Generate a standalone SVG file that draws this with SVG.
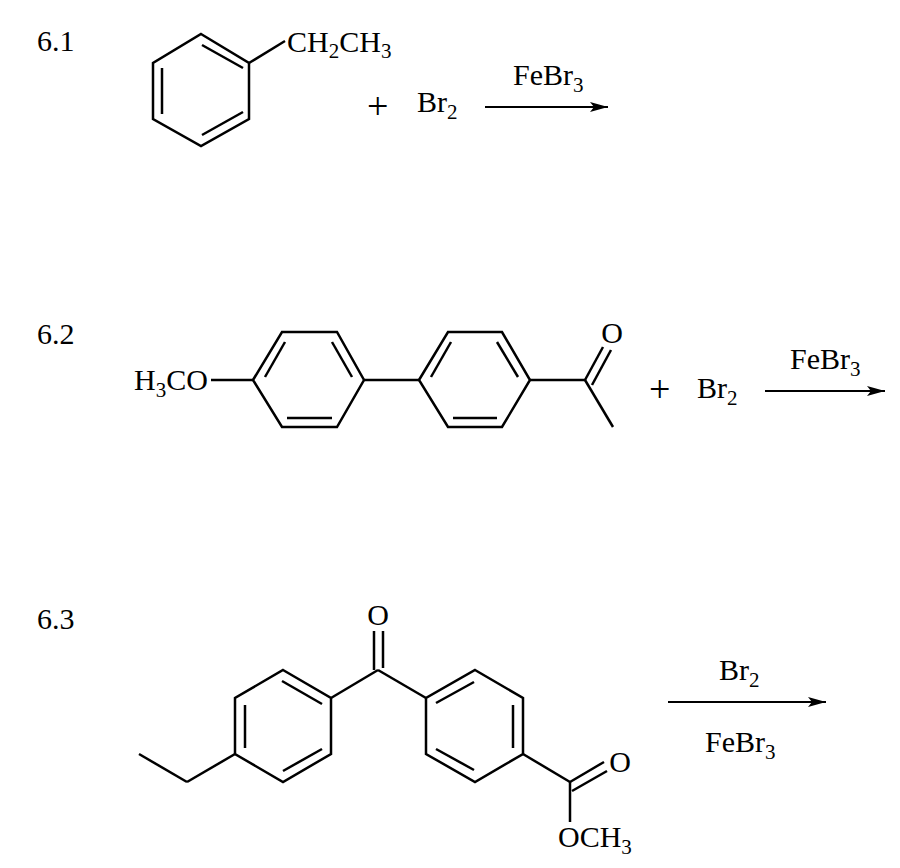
<svg xmlns="http://www.w3.org/2000/svg" width="900" height="868" viewBox="0 0 900 868">
<defs>
<marker id="ah" viewBox="0 0 18 10" refX="18" refY="5" markerWidth="18" markerHeight="10" markerUnits="userSpaceOnUse" orient="auto"><path d="M0,0 L18,5 L0,10 L4,5 Z" fill="#000"/></marker>
</defs>
<style>
line,polyline,polygon{stroke:#000;stroke-width:2.5;fill:none;stroke-linejoin:miter}
text{font-family:"Liberation Serif","Times New Roman",serif;font-size:30px;fill:#000}
.s{font-size:21px}
.p{font-size:38px}
.arr{stroke-width:2;marker-end:url(#ah)}
</style>
<rect width="900" height="868" fill="#fff"/>
<text x="37" y="51">6.1</text>
<text x="37" y="344">6.2</text>
<text x="37" y="629">6.3</text>

<g id="mol1">
<polygon points="201,34 249,63 249,119 201,146 153,119 153,63"/>
<line x1="202" y1="45" x2="243" y2="68"/>
<line x1="162" y1="68" x2="162" y2="114"/>
<line x1="202" y1="135" x2="243" y2="112"/>
<line x1="249" y1="63" x2="285" y2="41"/>
<text x="287" y="52">CH<tspan class="s" dy="6">2</tspan><tspan dy="-6">CH</tspan><tspan class="s" dy="6">3</tspan></text>
</g>
<g id="plus1"><text class="p" x="367" y="119">+</text><text x="417" y="112">Br<tspan class="s" dy="7">2</tspan></text></g>
<g id="mol2">
<polygon points="253,380 282,332 337,332 364,380 337,427 282,427"/>
<line x1="265" y1="377" x2="285" y2="342"/>
<line x1="332" y1="342" x2="352" y2="377"/>
<line x1="287" y1="418" x2="332" y2="418"/>
<polygon points="419,380 448,332 502,332 530,380 502,427 448,427"/>
<line x1="431" y1="377" x2="451" y2="342"/>
<line x1="497" y1="342" x2="518" y2="377"/>
<line x1="453" y1="418" x2="497" y2="418"/>
<line x1="364" y1="380" x2="419" y2="380"/>
<line x1="211" y1="380" x2="253" y2="380"/>
<text x="134" y="390">H<tspan class="s" dy="7">3</tspan><tspan dy="-7">CO</tspan></text>
<line x1="530" y1="380" x2="585" y2="380"/>
<line x1="585" y1="380" x2="613" y2="427"/>
<line x1="585" y1="380" x2="603" y2="347"/>
<line x1="592" y1="385" x2="611" y2="350"/>
<text x="612" y="343" text-anchor="middle">O</text>
</g>
<g id="plus2"><text class="p" x="649" y="402">+</text><text x="697" y="398">Br<tspan class="s" dy="7">2</tspan></text></g>
<g id="mol3">
<polygon points="283,670 331,698 331,754 283,782 235,754 235,698"/>
<line x1="282" y1="681" x2="322" y2="704"/>
<line x1="245" y1="705" x2="245" y2="748"/>
<line x1="283" y1="771" x2="322" y2="749"/>
<line x1="235" y1="754" x2="187" y2="782"/>
<line x1="187" y1="782" x2="139" y2="754"/>
<line x1="331" y1="698" x2="378" y2="670"/>
<line x1="378" y1="670" x2="426" y2="698"/>
<line x1="374" y1="670" x2="374" y2="631"/>
<line x1="383" y1="668" x2="383" y2="631"/>
<text x="378" y="625" text-anchor="middle">O</text>
<polygon points="475,670 523,698 523,754 475,782 426,754 426,698"/>
<line x1="436" y1="703" x2="474" y2="682"/>
<line x1="513" y1="705" x2="513" y2="748"/>
<line x1="436" y1="749" x2="474" y2="770"/>
<line x1="523" y1="754" x2="570" y2="782"/>
<line x1="570" y1="782" x2="604" y2="762"/>
<line x1="572" y1="791" x2="607" y2="771"/>
<text x="620" y="772" text-anchor="middle">O</text>
<line x1="570" y1="782" x2="570" y2="822"/>
<text x="558" y="847">OCH<tspan class="s" dy="7">3</tspan></text>
</g>
<g id="connectors">
<line class="arr" x1="485" y1="107" x2="608" y2="107"/>
<line class="arr" x1="765" y1="391" x2="885" y2="391"/>
<line class="arr" x1="668" y1="702" x2="826" y2="702"/>
</g>
<g id="labels">
<text x="513" y="85">FeBr<tspan class="s" dy="7">3</tspan></text>
<text x="790" y="369">FeBr<tspan class="s" dy="7">3</tspan></text>
<text x="719" y="680">Br<tspan class="s" dy="7">2</tspan></text>
<text x="705" y="752">FeBr<tspan class="s" dy="7">3</tspan></text>
</g>
</svg>
